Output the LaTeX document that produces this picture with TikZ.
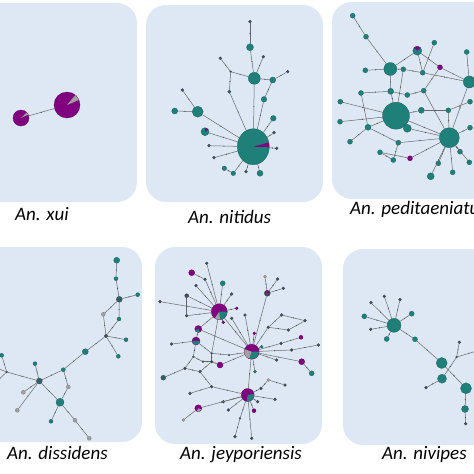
\documentclass[tikz,border=0pt]{standalone}
\usepackage{fontspec}
\setmainfont{Carlito}
\usetikzlibrary{shapes.geometric,decorations.markings}
\definecolor{panelbg}{HTML}{DDE8F4}
\definecolor{tealc}{HTML}{1E8079}
\definecolor{tealb}{HTML}{16605B}
\definecolor{purc}{HTML}{800080}
\definecolor{purb}{HTML}{5C005C}
\definecolor{greyc}{HTML}{A0A0A0}
\definecolor{darkc}{HTML}{3F4A55}
\definecolor{edgec}{HTML}{686868}
\newcommand\pwedge[5]{\fill[#5] (#1.center) -- ++(#2:#4) arc[start angle=#2,end angle=#3,radius=#4] -- cycle;}
\begin{document}
\begin{tikzpicture}[x=1pt,y=-1pt,
 panel/.style={fill=panelbg,rounded corners=20pt},
 hap/.style={circle,inner sep=0pt,line width=0.3pt},
 sz/.style={minimum size={2*#1*1pt}},
 ht/.style={hap,fill=tealc,draw=tealb},
 hp/.style={hap,fill=purc,draw=purb},
 hg/.style={hap,fill=greyc,draw=gray},
 hk/.style={hap,fill=darkc,draw=darkc},
 hd/.style={hap,fill=tealc!45!darkc,draw=darkc},
 ed/.style={draw=edgec,line width=0.5pt,postaction={decorate},
   decoration={markings,mark=at position 0.5 with {\fill[darkc] (0,0) circle[radius=0.6pt];}}},
 lab/.style={font=\fontsize{19}{22}\selectfont\itshape,anchor=base west,inner sep=0pt}]
\clip (0,0) rectangle (474,474);
\fill[white] (0,0) rectangle (474,474);
% panels
\fill[panel] (-30,3) rectangle (137,202);
\fill[panel] (146,5) rectangle (323,202);
\fill[panel] (332,2) rectangle (520,199);
\fill[panel] (-30,247) rectangle (142,442);
\fill[panel] (155,247) rectangle (322,444);
\fill[panel] (343,249) rectangle (520,445);
% labels
\node[lab] (L1) at (15,220) {An. xui};
\node[lab] (L2) at (188,223) {An. nitidus};
\node[lab] (L3) at (350,214) {An. peditaeniatus};
\node[lab] (L4) at (7,459) {An. dissidens};
\node[lab] (L5) at (180,459) {An. jeyporiensis};
\node[lab] (L6) at (382,459) {An. nivipes};

% ---------- Panel 1: xui
\node[hp,sz=13] (x1) at (67,105) {};
\node[hp,sz=8] (x2) at (21,118) {};
\pwedge{x1}{-50}{-23}{12.8}{greyc}
\pwedge{x2}{-45}{-25}{7.8}{greyc}
\draw[ed] (x2) -- (x1);

% ---------- Panel 2: nitidus
\node[ellipse,inner sep=0pt,fill=tealc,draw=tealb,line width=0.3pt,minimum width=32pt,minimum height=36pt] (n0) at (253.3,146.7) {};
\fill[purc] (n0.center) -- ++(-14:15.8 and 17.8) arc[start angle=-14,end angle=2,x radius=15.8,y radius=17.8] -- cycle;
\node[ht,sz=6] (nA) at (254.3,78.3) {};
\node[ht,sz=3.5] (nB) at (250,47.3) {};
\node[hk,sz=1.5] (nC) at (250,21.7) {};
\node[ht,sz=5.5] (nD) at (197.7,111.7) {};
\node[ht,sz=3] (nE) at (174.7,111) {};
\node[hk,sz=1.5] (nF) at (182.3,90) {};
\node[ht,sz=4] (nG) at (205,131.7) {};
\pwedge{nG}{-80}{-30}{3.9}{purc}
\node[hk,sz=1.5] (nH) at (220.3,58.3) {};
\node[hk,sz=1] (nJ) at (230.7,71.7) {};
\node[hd,sz=1.7] (nK) at (229.3,91.7) {};
\node[hk,sz=1.5] (nL) at (263.3,56.7) {};
\node[ht,sz=3] (nM) at (272.7,80) {};
\node[hk,sz=1.5] (nN) at (287.7,71.7) {};
\node[ht,sz=2.8] (nO) at (264,99.3) {};
\node[ht,sz=2.8] (nP) at (273.3,118.3) {};
\node[hk,sz=1.5] (nQ) at (274,132.7) {};
\node[hk,sz=1.5] (nR) at (276.7,148.3) {};
\node[hk,sz=1.5] (nS) at (209,145.7) {};
\node[hk,sz=1.5] (nU) at (214,157.7) {};
\node[ht,sz=2.3] (nV) at (224.3,168.3) {};
\node[ht,sz=2.3] (nW) at (233.3,173.3) {};
\node[hk,sz=1.5] (nX) at (246,171.7) {};
\node[ht,sz=3] (nY) at (260,173.3) {};
\foreach \a/\b in {nC/nB,nB/nA,nA/n0,nA/nL,nA/nM,nM/nN,nM/nO,nO/n0,nJ/nA,nJ/nH,nJ/nK,nK/n0,
  nD/n0,nD/nE,nD/nF,nG/n0,nS/n0,nU/n0,nV/nW,nW/n0,nX/n0,nY/n0,nP/n0,nQ/n0,nR/n0}
  \draw[ed] (\a) -- (\b);

% ---------- Panel 3: peditaeniatus
\node[ht,sz=2.5] (p1) at (352.7,15.7) {};
\node[ht,sz=2.5] (p2) at (366,36.7) {};
\node[ht,sz=6.5] (p3) at (390.3,69) {};
\node[ht,sz=4.5] (p4) at (417.3,50.7) {};
\pwedge{p4}{-140}{-40}{4.4}{purc}
\node[ht,sz=2.5] (p5) at (434.3,42.7) {};
\node[hp,sz=2.5] (p6) at (440,67.3) {};
\node[ht,sz=2.5] (p7) at (466.7,52) {};
\node[ht,sz=6] (p8) at (469.3,82) {};
\node[ht,sz=2.5] (p9) at (365.3,70.3) {};
\node[ht,sz=2.5] (p10) at (403.3,69.3) {};
\node[ht,sz=2.5] (p11) at (422.7,72.7) {};
\node[ht,sz=3] (p12) at (390.7,91.3) {};
\node[ht,sz=2.5] (p13) at (407.3,95) {};
\node[ht,sz=2.5] (p14) at (423.7,90.7) {};
\node[ht,sz=2.5] (p15) at (361,93) {};
\node[ht,sz=13.5] (p16) at (396,115.7) {};
\node[ht,sz=2.5] (p17) at (340.3,101.7) {};
\node[ht,sz=2.5] (p18) at (340,121.7) {};
\node[ht,sz=3] (p19) at (368,127.3) {};
\node[ht,sz=4] (p20) at (407.3,128.3) {};
\node[ht,sz=3] (p21) at (421.3,110.3) {};
\node[ht,sz=2.5] (p22) at (448.3,110.3) {};
\node[ht,sz=2.5] (p23) at (470,101.7) {};
\node[ht,sz=10] (p24) at (449.3,137.7) {};
\node[ht,sz=2.5] (p25) at (350,141.7) {};
\node[ht,sz=2.5] (p26) at (398.3,142.7) {};
\node[ht,sz=2.5] (p27) at (380,152.3) {};
\node[ht,sz=2.5] (p28) at (393.3,160) {};
\node[hp,sz=2.5] (p29) at (410,158.3) {};
\node[ht,sz=2.5] (p30) at (470,127.7) {};
\node[ht,sz=2.5] (p31) at (460,151.7) {};
\node[ht,sz=2.5] (p32) at (469.3,162.3) {};
\node[ht,sz=2.5] (p33) at (438.3,163.3) {};
\node[ht,sz=2.5] (p34) at (452.7,172.3) {};
\node[ht,sz=3.5] (p35) at (430.7,176.3) {};
\foreach \a/\b in {p1/p2,p2/p3,p3/p9,p3/p4,p3/p12,p3/p10,p4/p6,p4/p11,p6/p8,p5/p11,p10/p11,p11/p8,
  p7/p8,p10/p16,p12/p16,p12/p13,p13/p14,p6/p14,p14/p24,p15/p12,p16/p17,p16/p18,p16/p19,p16/p20,
  p16/p21,p21/p22,p22/p23,p22/p24,p19/p25,p19/p26,p16/p24,p26/p24,p26/p28,p27/p29,p29/p24,p20/p24,
  p24/p30,p24/p31,p24/p32,p24/p33,p24/p34,p24/p35,p8/p24,p27/p28,p15/p19}
  \draw[ed] (\a) -- (\b);

% ---------- Panel 4: dissidens
\node[ht,sz=3] (d1) at (116.7,260.3) {};
\node[ht,sz=2] (d2) at (116,278.7) {};
\node[hd,sz=3] (d3) at (119.3,299.3) {};
\node[ht,sz=2] (d4) at (137.7,294.7) {};
\node[hg,sz=2] (d5) at (103.3,314.3) {};
\node[ht,sz=2] (d6) at (119,319) {};
\node[hk,sz=1.8] (d7) at (106,336) {};
\node[ht,sz=2] (d8) at (126,339.7) {};
\node[ht,sz=2] (d9) at (118.3,356.3) {};
\node[ht,sz=3] (d10) at (85.3,351.7) {};
\node[ht,sz=2] (d11) at (63.3,369.7) {};
\node[hg,sz=2] (d12) at (68.3,387) {};
\node[ht,sz=4] (d13) at (60,402.3) {};
\node[hd,sz=3] (d14) at (39.3,381) {};
\node[ht,sz=2] (d15) at (35,363.7) {};
\node[hg,sz=2] (d16) at (23.3,392.3) {};
\node[hg,sz=2] (d17) at (17.3,410.3) {};
\node[ht,sz=2] (d18) at (51,421.3) {};
\node[hg,sz=2] (d19) at (75,420.3) {};
\node[hg,sz=2] (d20) at (89.3,438.3) {};
\node[hk,sz=1] (d21) at (6.7,372) {};
\node[ht,sz=2] (d22) at (1.7,355.3) {};
\coordinate (dL1) at (-8,366);
\coordinate (dL2) at (-6,384);
\foreach \a/\b in {d1/d2,d2/d3,d3/d4,d3/d5,d5/d7,d3/d6,d6/d7,d7/d8,d7/d9,d7/d10,d10/d11,d11/d14,
  d11/d12,d12/d13,d14/d13,d13/d18,d13/d19,d19/d20,d14/d15,d14/d16,d14/d17,d14/d21,d21/d22,d21/dL1,d21/dL2}
  \draw[ed] (\a) -- (\b);

% ---------- Panel 5: jeyporiensis
\node[hp,sz=8] (jA) at (219.3,311.7) {};
\pwedge{jA}{0}{85}{7.9}{tealc}
\pwedge{jA}{85}{125}{7.9}{greyc}
\node[hp,sz=7.5] (jB) at (251.7,351.7) {};
\pwedge{jB}{0}{110}{7.4}{tealc}
\pwedge{jB}{110}{200}{7.4}{greyc}
\node[hp,sz=6.5] (jC) at (247.7,395) {};
\pwedge{jC}{-10}{100}{6.4}{tealc}
\node[hk,sz=1.5] (j1) at (206.7,263.3) {};
\node[hp,sz=3] (j2) at (191.7,272.7) {};
\node[hk,sz=1.5] (j3) at (205,279.3) {};
\node[ht,sz=2.5] (j4) at (222.7,283.3) {};
\node[hk,sz=1.5] (j5) at (196,285.7) {};
\node[hk,sz=2] (j6) at (186.7,295.7) {};
\node[hk,sz=1.5] (j7) at (231.7,294) {};
\node[hg,sz=1.5] (j8) at (265,276.7) {};
\node[hk,sz=1.5] (j9) at (277.7,279) {};
\node[hk,sz=3] (j10) at (267.3,293.3) {};
\pwedge{j10}{-160}{-20}{2.9}{purc}
\node[hk,sz=1.5] (j11) at (283.3,288.3) {};
\node[hk,sz=1.5] (j12) at (160,301.7) {};
\node[hk,sz=1.5] (j13) at (186.7,315.7) {};
\node[hp,sz=1.5] (j14) at (236.7,308.3) {};
\node[hp,sz=1.5] (j15) at (223.3,322.3) {};
\node[hk,sz=1.5] (j16) at (231.7,318.3) {};
\node[hp,sz=3.5] (j17) at (198.3,329) {};
\pwedge{j17}{60}{160}{3.4}{tealc}
\node[hp,sz=4] (j18) at (196,341) {};
\pwedge{j18}{0}{180}{3.9}{tealc}
\node[hp,sz=1.5] (j19) at (254.3,333.3) {};
\node[hk,sz=1.5] (j20) at (281.7,315) {};
\node[hk,sz=1.5] (j21) at (305,320.7) {};
\node[hk,sz=1.5] (j22) at (268.3,327.3) {};
\node[hp,sz=2] (j23) at (301,337.3) {};
\node[hk,sz=1.5] (j24) at (281,343.3) {};
\node[hp,sz=3] (j25) at (301.7,361.7) {};
\node[ht,sz=2.5] (j26) at (311.7,373.3) {};
\node[hk,sz=1.5] (j27) at (318.3,345) {};
\node[hk,sz=1.5] (j28) at (276.7,360) {};
\node[hp,sz=3] (j29) at (220,365) {};
\node[hk,sz=1.5] (j30) at (211.7,361.7) {};
\node[hk,sz=1.5] (j31) at (200,371.7) {};
\node[hk,sz=1.5] (j32) at (185,368.3) {};
\node[hd,sz=2.5] (j33) at (163.3,377.7) {};
\node[ht,sz=1.5] (j34) at (255,371.7) {};
\node[hk,sz=1.5] (j35) at (211.7,386.7) {};
\node[hk,sz=1.5] (j36) at (190,393.3) {};
\node[hp,sz=3.5] (j37) at (198.3,408.3) {};
\pwedge{j37}{20}{120}{3.4}{greyc}
\node[hg,sz=1.5] (j38) at (183.3,420) {};
\node[hk,sz=1.5] (j39) at (223.3,401.7) {};
\node[hk,sz=1.5] (j40) at (228.3,410) {};
\node[hp,sz=2] (j41) at (254,410.7) {};
\node[hk,sz=1.5] (j42) at (257.7,401.7) {};
\node[hg,sz=1.5] (j43) at (268.3,380) {};
\node[hk,sz=1.5] (j44) at (285,385) {};
\node[hk,sz=1.5] (j45) at (275,399.3) {};
\node[hk,sz=1.5] (j46) at (261,388.3) {};
\node[hk,sz=1.5] (j47) at (235,436.7) {};
\node[hk,sz=1.5] (j48) at (251.7,438.3) {};
\node[hk,sz=1] (j49) at (240,418.3) {};
\node[hk,sz=1.5] (j51) at (291.7,350) {};
\node[hk,sz=1.5] (j52) at (171.7,344) {};
\node[hk,sz=1] (jm1) at (211.7,353.3) {};
\node[hk,sz=1] (jm2) at (193.3,356.7) {};
\node[hk,sz=1] (jm3) at (203,361.7) {};
\node[hk,sz=1] (jm5) at (229,355) {};
\node[hk,sz=1.5] (jm6) at (288.3,330) {};
\node[ht,sz=1.5] (jm7) at (261.7,346.7) {};
\node[hk,sz=1.5] (jm8) at (245,315) {};
\foreach \a/\b in {j1/jA,j2/j3,j3/jA,j4/jA,j5/jA,j6/jA,j7/jA,j12/jA,j13/jA,j14/jA,j15/jA,j16/jB,
  jA/jB,j17/jA,j17/j18,j8/j10,j9/j10,j11/j10,j10/jB,j19/jB,j22/jB,j20/j22,j21/jm6,jm6/j22,j23/j24,j24/jB,
  j25/jB,j25/j26,j51/jB,j27/j51,j28/jB,j29/jB,j30/j29,j31/j30,j32/j33,j31/j32,j35/j31,j36/j35,
  jB/jC,j34/jB,jC/j35,jC/j37,j37/j38,jC/j39,jC/j40,jC/j41,jC/j42,jC/j49,j49/j47,jC/j48,
  jC/j46,j46/j43,j43/j44,jC/j45,j13/j6,j52/j18,jB/jm5,jm5/jm1,jm1/j18,jm1/j30,jm2/jm3,jm3/j30,
  j32/jm2,j18/jm2,jA/jm1,j17/jB,jm7/jB,jm8/jB,j20/j21}
  \draw[ed] (\a) -- (\b);

% ---------- Panel 6: nivipes
\node[ht,sz=7] (vH) at (394,325.3) {};
\node[ht,sz=2.5] (v1) at (364.3,316.3) {};
\node[hk,sz=1.5] (v2) at (371,302.7) {};
\node[hk,sz=1.5] (v3) at (384.3,296.3) {};
\node[hk,sz=1.5] (v4) at (400,299.7) {};
\node[ht,sz=2.5] (v5) at (411.7,313.7) {};
\node[hk,sz=1.5] (v6) at (370.7,329.3) {};
\node[ht,sz=2.5] (v7) at (386.7,339) {};
\node[ht,sz=2.5] (v8) at (415,339.3) {};
\node[ht,sz=5.5] (v9) at (441.7,363) {};
\node[ht,sz=4.5] (v10) at (442,378.7) {};
\node[hk,sz=1.5] (v11) at (426,387.7) {};
\node[hk,sz=1] (v12) at (456.7,357) {};
\node[hk,sz=1.5] (v13) at (459.3,342.3) {};
\node[ht,sz=5.5] (v14) at (466,388.3) {};
\node[ht,sz=3.5] (v15) at (465,409) {};
\node[hk,sz=1.5] (v16) at (465.7,423.7) {};
\coordinate (vR) at (480,350);
\foreach \a/\b in {vH/v1,vH/v2,vH/v3,vH/v4,vH/v5,vH/v6,vH/v7,vH/v8,v8/v9,v9/v14,v10/v12,v12/v13,
  v12/vR,v10/v11,v14/v15,v15/v16}
  \draw[ed] (\a) -- (\b);
\end{tikzpicture}
\end{document}
